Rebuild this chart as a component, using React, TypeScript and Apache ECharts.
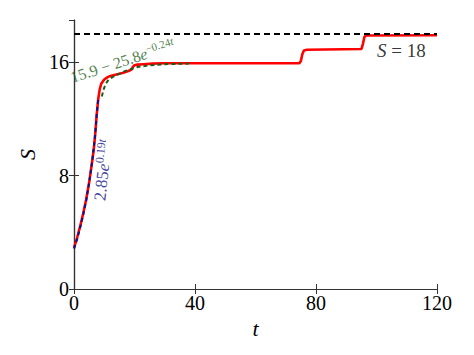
import React, { useEffect, useRef } from "react";
import * as echarts from "echarts";

const xTicks = [0, 40, 80, 120];
const yTicks = [0, 8, 16];
const xRange = [0, 120];
const yRange = [0, 19];
const limitS = [18];

// measured S(t) (red)
const simT = [0, 1, 2, 3, 4, 5, 6, 6.5, 7, 7.5, 8, 8.5, 9, 10, 11, 12, 14, 16, 18, 19, 19.5, 20, 21, 23, 26, 30, 40, 60, 74.5, 75, 75.5, 76, 77, 95, 95.5, 96, 96.5, 120];
const simS = [2.9, 3.6, 4.4, 5.3, 6.3, 7.5, 9.0, 9.8, 10.9, 12.3, 13.4, 14.1, 14.5, 14.8, 14.95, 15.05, 15.15, 15.25, 15.4, 15.5, 15.7, 15.8, 15.85, 15.88, 15.92, 15.94, 15.95, 15.95, 15.95, 16.1, 16.6, 16.85, 16.9, 16.95, 17.3, 17.8, 17.9, 17.92];

// exponential fit (blue)
const expT = [0, 1, 2, 3, 4, 5, 6, 7, 7.5, 8];
const expS = [2.85, 3.5, 4.3, 5.2, 6.2, 7.5, 9.0, 10.9, 12.3, 13.4];

// saturation fit (green)
const satT = [9.2, 9.8, 10.5, 11.5, 13, 15, 17, 19, 21, 25, 30, 38];
const satS = [13.6, 14.1, 14.5, 14.8, 15.0, 15.2, 15.4, 15.55, 15.68, 15.8, 15.88, 15.92];

const zip = (a: number[], b: number[]) => a.map((v, i) => [v, b[i]]);

const SERIF = "'Liberation Serif', 'DejaVu Serif', serif";
const GREEN = "#1a5e1a";
const BLUE = "#10108a";

export default function App() {
  const ref = useRef<HTMLDivElement>(null);
  useEffect(() => {
    if (!ref.current) return;
    const chart = echarts.init(ref.current, undefined, { renderer: "svg" });
    const axisLine = { show: true, lineStyle: { color: "#333", width: 1.2 } };
    const tickIn = { show: true, inside: true, length: 5, lineStyle: { color: "#333", width: 1 } };
    chart.setOption({
      animation: false,
      backgroundColor: "#fff",
      grid: { left: 62, right: 29, top: 12, bottom: 58 },
      xAxis: [
        {
          type: "value", min: xRange[0], max: xRange[1], interval: 40, position: "bottom",
          axisLine, axisTick: tickIn, splitLine: { show: false },
          axisLabel: { color: "#000", fontFamily: SERIF, fontSize: 20, margin: 4,
            formatter: (v: number) => (xTicks.includes(v) ? String(v) : "") },
          name: "t", nameLocation: "middle", nameGap: 28,
          nameTextStyle: { color: "#000", fontFamily: SERIF, fontSize: 22, fontStyle: "italic" },
        },
        {
          type: "value", min: xRange[0], max: xRange[1], interval: 40, position: "top",
          axisLine, axisTick: tickIn, axisLabel: { show: false }, splitLine: { show: false },
        },
      ],
      yAxis: [
        {
          type: "value", min: yRange[0], max: yRange[1], interval: 8, position: "left",
          axisLine, axisTick: tickIn, splitLine: { show: false },
          axisLabel: { color: "#000", fontFamily: SERIF, fontSize: 20, margin: 5, showMaxLabel: false,
            formatter: (v: number) => (yTicks.includes(v) ? String(v) : "") },
          name: "S", nameLocation: "middle", nameGap: 36, nameRotate: 90,
          nameTextStyle: { color: "#000", fontFamily: SERIF, fontSize: 22, fontStyle: "italic" },
        },
        {
          type: "value", min: yRange[0], max: yRange[1], interval: 8, position: "right",
          axisLine, axisTick: tickIn, axisLabel: { show: false }, splitLine: { show: false },
        },
      ],
      series: [
        {
          type: "line", data: zip(simT, simS), showSymbol: false, symbol: "none",
          lineStyle: { color: "#ff0000", width: 2.6 }, z: 3,
          markLine: {
            silent: true, symbol: "none", label: { show: false },
            lineStyle: { color: "#000", width: 2, type: [6, 4] },
            data: [{ yAxis: limitS[0] }],
          },
        },
        {
          type: "line", data: zip(expT, expS), showSymbol: false, symbol: "none",
          lineStyle: { color: BLUE, width: 2, type: [4, 3] }, z: 4,
        },
        {
          type: "line", data: zip(satT, satS), showSymbol: false, symbol: "none",
          lineStyle: { color: GREEN, width: 2, type: [4, 3] }, z: 4,
        },
        {
          type: "scatter", symbolSize: 0, z: 6, silent: true,
          data: [
            { value: [16.0, 16.1], label: { show: true, position: "inside", rotate: 18, align: "center", verticalAlign: "middle",
              formatter: "{n|15.9 − 25.8}{i|e}{s|−0.24}{si|t}",
              rich: {
                n: { color: GREEN, fontFamily: SERIF, fontSize: 16 },
                i: { color: GREEN, fontFamily: SERIF, fontSize: 16, fontStyle: "italic" },
                s: { color: GREEN, fontFamily: SERIF, fontSize: 11, verticalAlign: "top", padding: [0, 0, 8, 0] },
                si: { color: GREEN, fontFamily: SERIF, fontSize: 11, fontStyle: "italic", verticalAlign: "top", padding: [0, 0, 8, 0] },
              } } },
            { value: [9.6, 8.4], label: { show: true, position: "inside", rotate: 84, align: "center", verticalAlign: "middle",
              formatter: "{n|2.85}{i|e}{s|0.19}{si|t}",
              rich: {
                n: { color: BLUE, fontFamily: SERIF, fontSize: 17 },
                i: { color: BLUE, fontFamily: SERIF, fontSize: 17, fontStyle: "italic" },
                s: { color: BLUE, fontFamily: SERIF, fontSize: 12, verticalAlign: "top", padding: [0, 0, 9, 0] },
                si: { color: BLUE, fontFamily: SERIF, fontSize: 12, fontStyle: "italic", verticalAlign: "top", padding: [0, 0, 9, 0] },
              } } },
            { value: [108.2, 16.85], label: { show: true, position: "inside", align: "center", verticalAlign: "middle",
              formatter: "{i|S}{n| = 18}",
              rich: {
                i: { color: "#000", fontFamily: SERIF, fontSize: 19, fontStyle: "italic" },
                n: { color: "#000", fontFamily: SERIF, fontSize: 19 },
              } } },
          ],
        },
      ],
    });
    return () => chart.dispose();
  }, []);
  return <div ref={ref} style={{ width: 458, height: 339 }} />;
}
